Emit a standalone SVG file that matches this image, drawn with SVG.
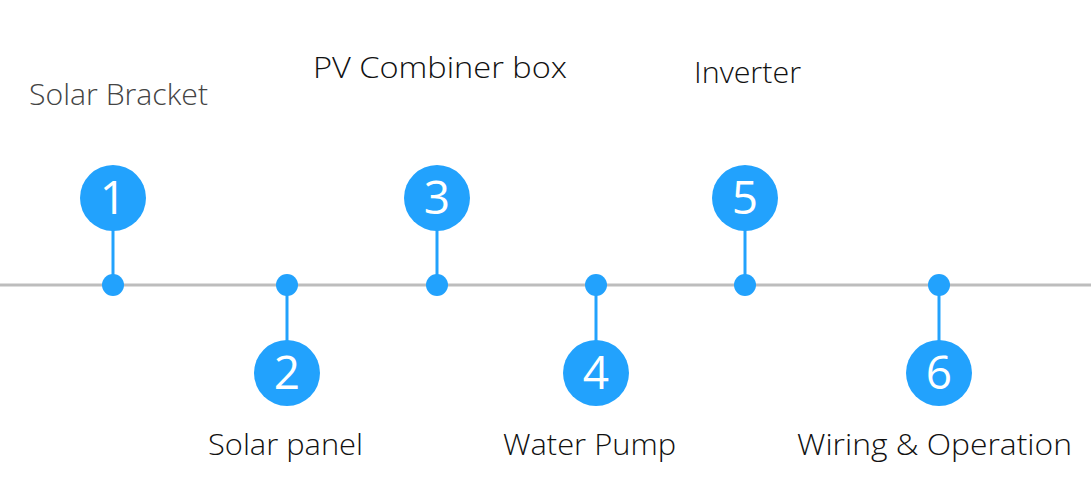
<svg xmlns="http://www.w3.org/2000/svg" width="1091" height="499" viewBox="0 0 1091 499">
<style>
.axis{stroke:#bdbdbd;stroke-width:3}
.stem{stroke:#22a2fd;stroke-width:3}
.dot{fill:#22a2fd}
.badge{fill:#22a2fd}
.num{fill:#fff;font-family:"Open Sans","Noto Sans",sans-serif;font-size:46px;font-weight:500;text-anchor:middle}
.lbl{fill:#111;font-family:"Open Sans","Noto Sans",sans-serif;font-size:29px;font-weight:300;text-anchor:middle}
</style>
<rect width="1091" height="499" fill="#fff"/>
<g id="connectors">
<line class="axis" x1="0" y1="285" x2="1091" y2="285"/>
<line class="stem" x1="113" y1="198" x2="113" y2="285"/>
<line class="stem" x1="287" y1="285" x2="287" y2="373"/>
<line class="stem" x1="437" y1="198" x2="437" y2="285"/>
<line class="stem" x1="596" y1="285" x2="596" y2="373"/>
<line class="stem" x1="745" y1="198" x2="745" y2="285"/>
<line class="stem" x1="939" y1="285" x2="939" y2="373"/>
</g>
<g id="node1">
<circle class="dot" cx="113" cy="285" r="11"/>
<circle class="badge" cx="113" cy="198" r="33"/>
<text class="num" x="113" y="214">1</text>
<text class="lbl" x="118.5" y="105" style="fill:#444" textLength="179" lengthAdjust="spacingAndGlyphs">Solar Bracket</text>
</g>
<g id="node2">
<circle class="dot" cx="287" cy="285" r="11"/>
<circle class="badge" cx="287" cy="373" r="33"/>
<text class="num" x="287" y="389">2</text>
<text class="lbl" x="285.5" y="455" textLength="155" lengthAdjust="spacingAndGlyphs">Solar panel</text>
</g>
<g id="node3">
<circle class="dot" cx="437" cy="285" r="11"/>
<circle class="badge" cx="437" cy="198" r="33"/>
<text class="num" x="437" y="214">3</text>
<text class="lbl" x="440" y="78" textLength="254" lengthAdjust="spacingAndGlyphs">PV Combiner box</text>
</g>
<g id="node4">
<circle class="dot" cx="596" cy="285" r="11"/>
<circle class="badge" cx="596" cy="373" r="33"/>
<text class="num" x="596" y="389">4</text>
<text class="lbl" x="589.5" y="455" textLength="173" lengthAdjust="spacingAndGlyphs">Water Pump</text>
</g>
<g id="node5">
<circle class="dot" cx="745" cy="285" r="11"/>
<circle class="badge" cx="745" cy="198" r="33"/>
<text class="num" x="745" y="214">5</text>
<text class="lbl" x="747.5" y="83" textLength="107" lengthAdjust="spacingAndGlyphs">Inverter</text>
</g>
<g id="node6">
<circle class="dot" cx="939" cy="285" r="11"/>
<circle class="badge" cx="939" cy="373" r="33"/>
<text class="num" x="939" y="389">6</text>
<text class="lbl" x="934.5" y="455" textLength="275" lengthAdjust="spacingAndGlyphs">Wiring &amp; Operation</text>
</g>
</svg>
